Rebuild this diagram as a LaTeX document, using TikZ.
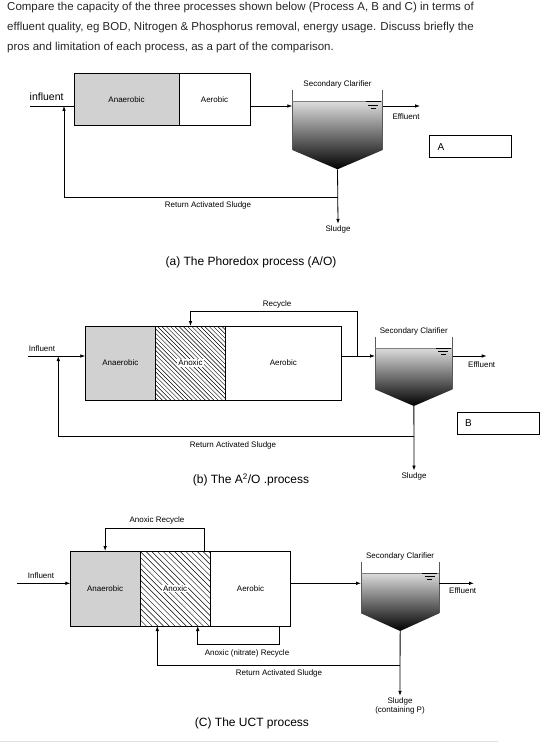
\documentclass[tikz,border=0pt]{standalone}
\usepackage{fontspec}
\setmainfont{Liberation Sans}
\usepackage{tikz}
\usetikzlibrary{arrows.meta}
\definecolor{anaer}{gray}{0.82}
\newcommand{\lblfont}{\fontsize{8}{9.5}\selectfont}

% clarifier: name, left, right, water level, foot of wall, cone tip
\newcommand{\clarifier}[6]{%
  \shade[top color=gray!28, bottom color=black]
    (#2,#4) -- (#3,#4) -- (#3,#5) -- ({(#2+#3)/2},#6) -- (#2,#5) -- cycle;
  \draw[gray!70!black, line width=0.7pt] (#2,#4-11.5) -- (#2,#5);
  \draw[gray!70!black, line width=0.7pt] (#3,#4-11.5) -- (#3,#5);
  \draw[gray, line width=0.5pt] (#2,#4) -- (#3,#4);
  \draw[line width=0.7pt] (#3-17,#4) -- (#3-2,#4)
    (#3-14.5,#4+3.5) -- (#3-4.5,#4+3.5)
    (#3-12,#4+6.5) -- (#3-7,#4+6.5);
  \coordinate (#1-l) at (#2,#4);
  \coordinate (#1-r) at (#3,#4);
  \coordinate (#1-tip) at ({(#2+#3)/2},#6);
  \coordinate (#1-top) at ({(#2+#3)/2},#4-11.5);
  \node[lbl, anchor=south] (#1-name) at (#1-top) {Secondary Clarifier};
}

% hatching inside an anoxic tank: node name, spacing
\newcommand{\hatchtank}[2]{%
  \begin{scope}
    \clip (#1.north west) rectangle (#1.south east);
    \foreach \k in {0,...,40} {
      \pgfmathsetmacro\xs{\k*#2-80}
      \draw[line width=0.45pt] ([xshift=\xs pt]#1.north west) -- ++(80,80);
    }
  \end{scope}
  \draw[line width=0.8pt] (#1.north west) rectangle (#1.south east);
  \node[anoxlbl] (#1-lbl) at (#1) {Anoxic};
}

\begin{document}
\begin{tikzpicture}[x=1pt,y=-1pt,
  lbl/.style={font=\lblfont, inner sep=1.5pt},
  tank/.style={draw, line width=0.8pt, inner sep=0pt, outer sep=0pt, anchor=north west, font=\lblfont},
  anoxlbl/.style={fill=white, inner sep=1pt, font=\lblfont},
  pipe/.style={line width=0.8pt},
  flow/.style={line width=0.8pt, -{Latex[length=5pt,width=3.6pt]}},
  ansbox/.style={draw, line width=0.8pt, anchor=north west, text width=66pt, inner xsep=8pt,
    minimum height=22pt, align=left, font=\fontsize{10}{12}\selectfont},
  figcap/.style={font=\fontsize{12}{14}\selectfont},
  qtext/.style={anchor=base west, inner sep=0pt, font=\fontsize{11.5}{14}\selectfont, text=black!85}]
\useasboundingbox (0,0) rectangle (543,746);

% question
\node[qtext] (q1) at (7,10.7) {Compare the capacity of the three processes shown below (Process A, B and C) in terms of};
\node[qtext] (q2) at (7,30.7) {effluent quality, eg BOD, Nitrogen \& Phosphorus removal, energy usage. Discuss briefly the};
\node[qtext] (q3) at (7,50.7) {pros and limitation of each process, as a part of the comparison.};

% (a) Phoredox
\node[tank, fill=anaer, minimum width=105, minimum height=52] (anaA) at (74,73.3) {Anaerobic};
\node[tank, minimum width=71, minimum height=52] (aerA) at (anaA.north east) {Aerobic};
\clarifier{clA}{292.3}{382.7}{101.7}{150}{169.3}
\coordinate (inA) at (30,106);
\coordinate (retA) at (64,197);
\coordinate (effA) at (420,106);
\node[anchor=base west, inner sep=0pt, font=\fontsize{10.5}{12}\selectfont] (infA) at (29.5,101) {influent};
\draw[pipe] (inA) -- (inA -| anaA.west);
\draw[flow] (aerA.east |- inA) -- (clA-l |- inA);
\draw[flow] (clA-r |- effA) -- (effA);
\node[lbl] (effA-lbl) at (406,116.7) {Effluent};
\node[lbl] (sluA) at (338,229.3) {Sludge};
\draw[flow] (clA-tip) -- (sluA.north);
\draw[flow] (clA-tip |- retA) -- (retA) -- (retA |- inA);
\node[lbl] (retA-lbl) at (208,205) {Return Activated Sludge};
\node[ansbox] (boxA) at (429.3,135.3) {A};
\node[figcap] (capA) at (251,262) {(a) The Phoredox process (A/O)};

% (b) A2/O
\node[tank, fill=anaer, minimum width=70, minimum height=74] (anaB) at (85.3,326) {Anaerobic};
\node[tank, draw=none, minimum width=70.4, minimum height=74] (anoxB) at (anaB.north east) {};
\hatchtank{anoxB}{4.3}
\node[tank, minimum width=115.3, minimum height=74] (aerB) at (anoxB.north east) {Aerobic};
\clarifier{clB}{375}{452.7}{348.3}{389.3}{406}
\coordinate (inB) at (28,356);
\coordinate (retB) at (58.3,436);
\coordinate (rcB) at (357.3,311);
\coordinate (effB) at (486.7,356);
\node[lbl, anchor=base] (infB) at (42,351.5) {Influent};
\draw[flow] (inB) -- (inB -| anaB.west);
\draw[flow] (aerB.east |- inB) -- (clB-l |- inB);
\draw[flow] (rcB |- inB) -- (rcB) -| (anoxB.north);
\node[lbl] (rcB-lbl) at (277,304) {Recycle};
\draw[flow] (clB-r |- effB) -- (effB);
\node[lbl] (effB-lbl) at (481.7,365) {Effluent};
\node[lbl] (sluB) at (414,476) {Sludge};
\draw[flow] (clB-tip) -- (sluB.north);
\draw[flow] (clB-tip |- retB) -- (retB) -- (retB |- inB);
\node[lbl] (retB-lbl) at (233,445) {Return Activated Sludge};
\node[ansbox] (boxB) at (456.7,411.7) {B};
\node[figcap] (capB) at (251,480) {(b) The A\textsuperscript{2}/O .process};

% (c) UCT
\node[tank, fill=anaer, minimum width=69.7, minimum height=75] (anaC) at (70.3,551) {Anaerobic};
\node[tank, draw=none, minimum width=70.3, minimum height=75] (anoxC) at (anaC.north east) {};
\hatchtank{anoxC}{5.7}
\node[tank, minimum width=80.4, minimum height=75] (aerC) at (anoxC.north east) {Aerobic};
\clarifier{clC}{361}{439.3}{573.3}{613.3}{631}
\coordinate (inC) at (17,583.3);
\coordinate (arC) at (204,528.3);
\coordinate (nrC) at (279.3,644.3);
\coordinate (nrC2) at (197.7,644.3);
\coordinate (retC) at (157.3,665);
\coordinate (effC) at (474,583.3);
\node[lbl, anchor=base] (infC) at (41,578) {Influent};
\draw[flow] (inC) -- (inC -| anaC.west);
\draw[flow] (arC |- anoxC.north) -- (arC) -| (anaC.north);
\node[lbl] (arC-lbl) at (157,520) {Anoxic Recycle};
\draw[flow] (nrC |- aerC.south) -- (nrC) -- (nrC2) -- (nrC2 |- anoxC.south);
\node[lbl] (nrC-lbl) at (247,653.3) {Anoxic (nitrate) Recycle};
\draw[flow] (aerC.east |- inC) -- (clC-l |- inC);
\draw[flow] (clC-r |- effC) -- (effC);
\node[lbl] (effC-lbl) at (462.7,591) {Effluent};
\node[lbl, align=center] (sluC) at (400,706) {Sludge\\(containing P)};
\draw[flow] (clC-tip) -- (sluC.north);
\draw[flow] (clC-tip |- retC) -- (retC) -- (retC |- anoxC.south);
\node[lbl] (retC-lbl) at (279,673.3) {Return Activated Sludge};
\node[figcap] (capC) at (252,723) {(C) The UCT process};
\draw[gray!25, line width=1pt] (0,741) -- (498.3,741);
\end{tikzpicture}
\end{document}
